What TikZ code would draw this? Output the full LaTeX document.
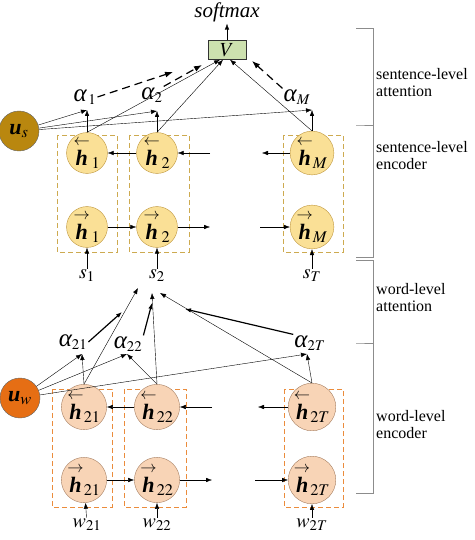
\documentclass[tikz,border=0pt]{standalone}
\usepackage{mathptmx}
\usepackage[no-math]{fontspec}
\setmainfont{Liberation Serif}
\usetikzlibrary{arrows.meta}

\definecolor{hsfill}{RGB}{250,224,150}
\definecolor{hsdraw}{RGB}{190,150,60}
\definecolor{hwfill}{RGB}{248,212,182}
\definecolor{hwdraw}{RGB}{165,125,95}
\definecolor{usfill}{RGB}{185,135,15}
\definecolor{uwfill}{RGB}{230,110,20}
\definecolor{sboxc}{RGB}{205,170,80}
\definecolor{wboxc}{RGB}{235,140,60}
\definecolor{vfill}{RGB}{205,225,175}

% hidden states with a small arrow over a bold h
\newcommand{\hl}[1]{$\stackrel{\leftarrow}{\mbox{\bfseries\itshape h}}_{#1}$}
\newcommand{\hr}[1]{$\stackrel{\rightarrow}{\mbox{\bfseries\itshape h}}_{#1}$}
\newcommand{\alp}[1]{$\mbox{\fontsize{25}{27}\selectfont\itshape α}_{#1}$}

\begin{document}
\begin{tikzpicture}[x=1pt,y=-1pt,>={Latex[length=6pt,width=4.5pt]},
    hs/.style={circle,draw=hsdraw,fill=hsfill,minimum size=38pt,inner sep=0pt,font=\fontsize{22}{24}\selectfont},
    hw/.style={circle,draw=hwdraw,fill=hwfill,minimum size=38pt,inner sep=0pt,font=\fontsize{22}{24}\selectfont},
    ctx/.style={circle,draw=black!60,minimum size=40pt,inner sep=0pt,font=\fontsize{22}{24}\selectfont},
    sym/.style={inner sep=1pt,font=\fontsize{20}{22}\selectfont},
    att/.style={->,line width=1.2pt,dash pattern=on 8pt off 5pt,>={Latex[length=8pt,width=6pt]}},
    sbox/.style={draw=sboxc,line width=0.9pt,dash pattern=on 5pt off 3pt},
    wbox/.style={draw=wboxc,line width=0.9pt,dash pattern=on 5pt off 3pt},
    brk/.style={draw=black!45,thin},
    lbl/.style={anchor=west,align=left,inner sep=0pt,font=\fontsize{16}{17}\selectfont}]
    \useasboundingbox (0,0) rectangle (474,540);

    % Sentence-level attention
    \node[anchor=base,inner sep=1pt,font=\fontsize{21}{23}\selectfont\itshape] (soft) at (227,18) {softmax};
    \node[draw=black!80,fill=vfill,minimum width=38pt,minimum height=19pt,inner sep=0pt,font=\fontsize{20}{22}\selectfont] (V) at (227,50) {$V$};
    \draw[->] (V) -- (soft);
    \node[ctx,fill=usfill] (us) at (19,131) {$\mbox{\bfseries\itshape u}_{s}$};
    \node[sym] (a1) at (85,97) {\alp{\,1}};
    \node[sym] (a2) at (152,95) {\alp{2}};
    \node[sym] (aM) at (297,97) {\alp{M}};
    \coordinate (a1in) at (87,110);
    \coordinate (a2in) at (157,111);
    \coordinate (aMin) at (312,110);
    \coordinate (d1) at (173,72);
    \coordinate (d2) at (202,65);
    \coordinate (dM) at (252,61);
    \draw[att] (a1.east) -- (d1);
    \draw[att] (a2.north east) -- (d2);
    \draw[att] (aM.north west) -- (dM);

    % Sentence-level encoder
    \draw[sbox] (57,135) rectangle (117,252);
    \draw[sbox] (129,135) rectangle (189,252);
    \draw[sbox] (283,135) rectangle (343,252);
    \node[hs] (hb1) at (87,153) {\hl{\,1}};
    \node[hs] (hb2) at (157,153) {\hl{\,2}};
    \node[hs] (hbM) at (312,153) {\hl{M}};
    \node[hs] (hf1) at (87,227) {\hr{\,1}};
    \node[hs] (hf2) at (157,227) {\hr{\,2}};
    \node[hs] (hfM) at (312,227) {\hr{M}};
    \node[sym] (s1) at (87,276) {$s_1$};
    \node[sym] (s2) at (157,276) {$s_2$};
    \node[sym] (sT) at (312,276) {$s_T$};
    \coordinate (bgap) at (210,153);
    \coordinate (bend) at (262,153);
    \coordinate (fgap) at (210,227);
    \coordinate (fend) at (260,227);
    \draw[->] (hb2) -- (hb1);
    \draw[->] (bgap) -- (hb2);
    \draw[->] (hbM) -- (bend);
    \draw[->] (hf1) -- (hf2);
    \draw[->] (hf2) -- (fgap);
    \draw[->] (fend) -- (hfM);
    \draw[->] (s1) -- (hf1);
    \draw[->] (s2) -- (hf2);
    \draw[->] (sT) -- (hfM);
    \draw[->] (hb1.north) -- (a1in);
    \draw[->] (hb2.north) -- (a2in);
    \draw[->] (hbM.north) -- (aMin);
    \draw[->] (us) -- (a1in);
    \draw[->] (us) -- (a2in);
    \draw[->] (us) -- (aMin);
    \draw[->] (hb1.north) -- ([xshift=-7pt]V.south);
    \draw[->] (hb2.north) -- ([xshift=-4pt]V.south);
    \draw[->] (hbM.north) -- ([xshift=3pt]V.south);

    % Word-level attention
    \node[ctx,fill=uwfill] (uw) at (20,398) {$\mbox{\bfseries\itshape u}_{w}$};
    \node[sym] (a21) at (73,342) {\alp{21}};
    \node[sym] (a22) at (128,344) {\alp{22}};
    \node[sym] (a2T) at (310,343) {\alp{2T}};
    \coordinate (a21in) at (82,354);
    \coordinate (a22in) at (127,354);
    \coordinate (a2Tin) at (307,354);
    \coordinate (t1) at (122,312);
    \coordinate (t2) at (152,303);
    \coordinate (tT) at (185,309);
    \coordinate (s2a) at (138,288);
    \coordinate (s2b) at (152,293);
    \coordinate (s2c) at (160,293);
    \draw[->,line width=1.2pt] (a21.east) -- (t1);
    \draw[->,line width=1.2pt] (a22.north east) -- (t2);
    \draw[->,line width=1.2pt] (a2T.north west) -- (tT);

    % Word-level encoder
    \draw[wbox] (52,389) rectangle (112,507);
    \draw[wbox] (124,389) rectangle (186,507);
    \draw[wbox] (284,389) rectangle (343,507);
    \node[hw] (hw1b) at (84,407) {\hl{21}};
    \node[hw] (hw2b) at (157,407) {\hl{22}};
    \node[hw] (hwTb) at (312,407) {\hl{2T}};
    \node[hw] (hw1f) at (84,480) {\hr{21}};
    \node[hw] (hw2f) at (157,480) {\hr{22}};
    \node[hw] (hwTf) at (312,480) {\hr{2T}};
    \node[sym] (w1) at (87,525) {$w_{21}$};
    \node[sym] (w2) at (157,525) {$w_{22}$};
    \node[sym] (wT) at (312,525) {$w_{2T}$};
    \coordinate (wbgap) at (212,407);
    \coordinate (wbend) at (258,407);
    \coordinate (wfgap) at (212,480);
    \coordinate (wfend) at (255,480);
    \draw[->] (hw2b) -- (hw1b);
    \draw[->] (wbgap) -- (hw2b);
    \draw[->] (hwTb) -- (wbend);
    \draw[->] (hw1f) -- (hw2f);
    \draw[->] (hw2f) -- (wfgap);
    \draw[->] (wfend) -- (hwTf);
    \draw[->] (w1) -- (hw1f);
    \draw[->] (w2) -- (hw2f);
    \draw[->] (wT) -- (hwTf);
    \draw[->] (hw1b.north) -- (a21in);
    \draw[->] (hw2b.north) -- (a22in);
    \draw[->] (hwTb.north) -- (a2Tin);
    \draw[->] (uw) -- (a21in);
    \draw[->] (uw) -- (a22in);
    \draw[->] (uw) -- (a2Tin);
    \draw[->] (hw1b.north) -- (s2a);
    \draw[->] (hw2b.north) -- (s2b);
    \draw[->] (hwTb.north) -- (s2c);

    % Brackets
    \draw[brk] (356,28) -- (373,28) -- (373,125) -- (356,125) -- (373,125) -- (373,257) -- (356,257);
    \draw[brk] (356,260) -- (373,260) -- (373,343) -- (356,343) -- (373,343) -- (373,493) -- (356,493);
    \node[lbl] (lsa) at (376,83) {sentence-level\\attention};
    \node[lbl] (lse) at (376,156) {sentence-level\\encoder};
    \node[lbl] (lwa) at (376,298) {word-level\\attention};
    \node[lbl] (lwe) at (376,425) {word-level\\encoder};
\end{tikzpicture}
\end{document}
